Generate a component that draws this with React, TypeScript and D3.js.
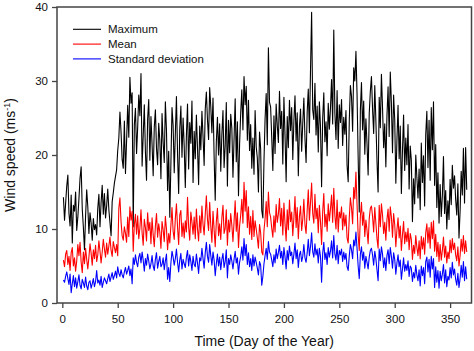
import React, { useEffect, useRef } from 'react';
import * as d3 from 'd3';

// daily wind speed values, day 1..365
const maximum = [
  14.3, 11.2, 13.5, 15.8, 17.3, 12.1, 10.4, 14.6, 8.1, 13.2,
  12.4, 15.0, 9.8, 11.6, 14.1, 16.9, 18.4, 12.7, 10.2, 7.2,
  11.8, 15.3, 13.0, 9.4, 12.2, 10.8, 8.5, 11.4, 9.9, 10.6,
  9.2, 12.8, 14.7, 10.3, 13.6, 15.9, 12.0, 14.8, 11.5, 13.1,
  15.4, 12.6, 10.9, 9.1, 13.7, 14.9, 16.2, 17.1, 18.0, 20.6,
  22.3, 25.8, 23.1, 19.4, 18.2, 24.6, 17.5, 21.9, 26.7, 22.4,
  30.5, 27.0, 28.4, 10.3, 24.1, 26.3, 20.2, 23.7, 28.1, 25.3,
  31.0, 18.5, 22.6, 26.8, 20.4, 16.6, 24.9, 27.5, 19.3, 25.2,
  21.4, 17.2, 23.8, 26.1, 20.9, 18.7, 24.3, 22.0, 16.8, 25.6,
  21.7, 19.0, 27.2, 23.3, 15.2, 20.5, 11.6, 18.9, 26.4, 24.0,
  17.6, 22.9, 27.9, 20.1, 14.8, 23.5, 26.6, 19.7, 25.0, 21.2,
  15.6, 22.7, 26.9, 18.1, 24.4, 21.6, 27.3, 16.3, 23.2, 19.5,
  25.4, 21.0, 16.0, 23.9, 20.7, 25.9, 22.5, 18.6, 26.2, 28.5,
  24.8, 22.1, 29.1, 26.5, 23.0, 27.7, 19.8, 13.9, 21.8, 25.1,
  20.0, 24.2, 17.8, 22.8, 26.0, 18.3, 21.3, 27.1, 15.8, 24.7,
  20.3, 25.5, 23.6, 17.0, 22.2, 27.6, 19.1, 24.5, 14.5, 21.5,
  25.7, 28.8, 23.4, 30.6, 26.8, 29.3, 22.0, 27.4, 20.6, 24.1,
  18.2, 22.3, 17.4, 26.0, 21.1, 19.6, 15.0, 23.1, 20.8, 12.5,
  11.5, 19.2, 24.9, 28.3, 21.4, 34.5, 27.1, 26.5, 22.4, 17.9,
  25.3, 20.2, 26.9, 24.0, 21.7, 28.6, 23.6, 25.9, 18.8, 27.8,
  22.6, 16.4, 25.2, 21.0, 27.4, 23.3, 26.4, 19.4, 24.6, 28.0,
  21.9, 25.7, 17.2, 23.8, 26.2, 20.5, 24.3, 27.7, 22.2, 19.0,
  25.8, 28.9, 23.0, 31.5, 39.3, 26.1, 24.8, 29.7, 22.7, 26.6,
  20.4, 27.2, 23.9, 15.7, 25.0, 28.4, 21.8, 24.5, 19.9, 27.0,
  23.5, 26.3, 30.2, 24.2, 36.9, 25.6, 22.1, 28.7, 20.9, 26.8,
  24.4, 27.5, 21.3, 25.1, 22.8, 26.0, 18.6, 16.4, 24.7, 29.4,
  27.9, 23.2, 31.8, 30.0, 34.0, 28.2, 19.7, 12.3, 26.1, 29.8,
  23.4, 27.3, 20.1, 24.9, 21.5, 17.3, 25.6, 28.6, 30.6, 26.2,
  22.9, 29.4, 24.6, 19.2, 15.0, 27.8, 23.7, 30.9, 26.4, 21.0,
  24.2, 18.4, 25.3, 29.2, 22.5, 31.2, 27.0, 20.3, 28.1, 24.8,
  16.2, 22.0, 26.7, 19.5, 23.9, 14.8, 20.6, 25.4, 17.9, 22.3,
  18.7, 24.1, 15.4, 21.2, 19.3, 11.0, 16.8, 13.4, 20.0, 17.0,
  14.2, 18.1, 12.6, 21.6, 16.3, 19.9, 13.1, 22.8, 25.9, 18.3,
  24.7, 16.6, 26.4, 20.7, 27.2, 15.9, 21.4, 12.9, 17.6, 10.8,
  16.0, 11.7, 14.5, 19.8, 12.1, 15.2, 10.0, 13.8, 11.3, 16.7,
  13.3, 18.6, 15.5, 17.2, 14.0, 11.9, 16.1, 8.8, 12.4, 17.8,
  14.6, 20.9, 13.5, 21.0, 15.3
];

const mean = [
  5.8, 4.9, 6.6, 7.1, 5.2, 6.3, 4.4, 6.8, 7.5, 5.0,
  6.1, 4.3, 5.7, 7.9, 6.4, 8.2, 5.5, 4.1, 6.9, 5.3,
  7.4, 5.9, 4.6, 6.2, 8.0, 6.7, 5.1, 7.2, 6.0, 7.8,
  5.6, 6.5, 8.4, 7.0, 5.4, 6.9, 8.6, 7.3, 6.2, 8.1,
  6.6, 7.7, 8.9, 7.1, 6.3, 8.3, 7.5, 6.8, 7.9, 6.4,
  12.8, 14.2, 11.0, 9.1, 8.5, 10.3, 9.4, 8.2, 11.6, 9.0,
  13.0, 11.2, 12.4, 7.0, 10.6, 12.0, 9.3, 11.8, 8.7, 10.1,
  12.6, 9.5, 7.8, 11.3, 10.2, 8.4, 12.2, 9.8, 10.9, 8.0,
  11.5, 9.2, 7.6, 10.4, 12.1, 8.9, 10.7, 9.6, 7.4, 11.0,
  9.9, 8.3, 11.7, 10.0, 7.2, 9.4, 8.1, 10.5, 12.9, 9.7,
  8.6, 11.4, 13.4, 10.2, 7.9, 11.9, 12.5, 9.0, 10.8, 8.8,
  11.1, 9.6, 14.3, 10.3, 8.5, 12.3, 10.9, 9.3, 11.6, 8.7,
  12.7, 10.0, 8.4, 11.8, 9.5, 13.1, 10.6, 9.2, 12.0, 14.5,
  11.3, 9.8, 13.6, 10.4, 8.2, 12.4, 9.9, 7.6, 11.0, 12.8,
  9.1, 10.7, 8.6, 11.5, 13.2, 9.4, 10.1, 12.6, 7.8, 11.2,
  9.6, 12.1, 10.5, 8.3, 11.0, 13.8, 9.7, 12.2, 7.5, 10.4,
  11.9, 14.0, 10.8, 16.3, 12.4, 15.2, 10.2, 13.0, 9.3, 11.7,
  8.6, 12.5, 9.0, 11.1, 10.0, 8.8, 7.4, 10.6, 9.5, 6.9,
  6.5, 9.8, 11.4, 13.7, 10.3, 15.0, 12.2, 11.6, 10.1, 8.9,
  11.8, 9.6, 13.3, 10.9, 12.0, 14.1, 10.4, 12.8, 9.2, 13.5,
  10.7, 8.4, 12.6, 9.9, 13.9, 11.0, 12.3, 9.1, 11.5, 14.4,
  10.2, 12.9, 8.7, 11.7, 13.1, 9.8, 11.3, 14.0, 10.6, 9.4,
  12.5, 15.3, 11.2, 13.6, 16.2, 12.1, 10.8, 14.7, 11.4, 12.8,
  9.5, 13.2, 11.0, 7.9, 12.4, 14.8, 10.3, 12.0, 9.7, 13.4,
  11.1, 12.7, 14.6, 10.9, 15.5, 11.8, 10.0, 13.9, 9.6, 12.3,
  11.5, 13.0, 9.9, 12.2, 10.4, 11.9, 8.8, 8.1, 11.6, 14.2,
  12.9, 10.7, 15.6, 14.1, 17.7, 13.3, 9.2, 7.1, 11.8, 13.6,
  10.5, 12.3, 9.0, 11.2, 9.8, 8.0, 11.4, 12.8, 13.1, 11.7,
  9.6, 12.9, 10.8, 8.7, 7.4, 13.2, 10.3, 13.4, 11.9, 9.4,
  10.9, 8.5, 11.3, 12.7, 9.7, 13.0, 11.6, 8.9, 12.1, 10.6,
  7.6, 9.9, 11.5, 8.8, 10.4, 7.1, 9.2, 11.0, 8.0, 9.6,
  8.3, 10.1, 7.2, 9.4, 8.6, 5.9, 7.8, 6.7, 9.1, 7.5,
  6.4, 8.4, 6.0, 9.0, 7.3, 8.8, 6.6, 9.5, 10.7, 8.1,
  10.2, 7.4, 10.9, 8.7, 11.1, 7.0, 9.3, 6.3, 8.2, 5.6,
  7.9, 5.8, 7.1, 8.9, 6.2, 7.7, 5.4, 6.9, 6.0, 8.5,
  6.8, 8.7, 7.2, 8.1, 6.5, 5.7, 7.6, 5.0, 6.4, 8.6,
  7.0, 9.1, 6.7, 8.4, 6.9
];

const stdDev = [
  3.1, 2.8, 3.6, 4.2, 3.3, 2.5, 3.9, 1.4, 2.6, 3.7,
  2.2, 3.4, 2.0, 2.9, 3.8, 2.4, 1.9, 3.2, 2.7, 2.1,
  3.5, 2.3, 1.8, 2.8, 3.0, 2.0, 2.6, 3.3, 2.2, 2.9,
  4.4, 2.7, 3.1, 2.4, 3.6, 2.1, 2.8, 3.4, 3.0, 2.6,
  3.3, 3.9, 2.9, 3.5, 4.1, 3.2, 3.7, 4.3, 3.4, 4.9,
  4.0, 3.6, 4.5, 3.8, 3.4, 4.2, 4.8, 3.9, 4.4, 5.0,
  3.7, 4.6, 2.6, 6.1, 5.2, 6.5, 5.5, 4.9, 6.2, 6.7,
  5.4, 6.9, 5.8, 4.3, 6.0, 5.1, 6.6, 5.7, 4.6, 5.3,
  6.4, 5.0, 4.4, 5.9, 6.8, 4.7, 5.6, 6.3, 4.9, 5.2,
  6.1, 4.5, 5.7, 6.6, 3.2, 4.8, 2.9, 5.4, 7.0, 6.2,
  5.1, 6.0, 7.3, 5.5, 4.2, 5.8, 6.7, 4.6, 5.9, 5.3,
  4.8, 6.2, 7.1, 5.0, 6.5, 5.6, 4.4, 6.3, 5.2, 4.9,
  6.6, 5.4, 4.0, 6.1, 5.7, 7.4, 6.0, 4.7, 6.8, 8.2,
  6.3, 5.5, 7.9, 6.4, 5.1, 6.9, 5.8, 3.7, 5.3, 6.6,
  5.0, 6.2, 4.5, 5.9, 6.7, 4.8, 5.6, 7.2, 3.4, 6.0,
  5.2, 6.5, 5.7, 4.6, 5.9, 7.0, 5.4, 6.1, 3.9, 5.5,
  6.3, 7.6, 5.8, 8.7, 6.4, 7.9, 5.2, 6.8, 4.9, 6.0,
  4.4, 6.5, 5.0, 6.2, 5.5, 4.7, 3.8, 5.6, 5.1, 2.4,
  3.6, 5.3, 6.4, 7.4, 5.9, 8.3, 6.9, 6.6, 5.8, 4.9,
  6.5, 5.4, 7.3, 6.0, 6.8, 7.8, 6.1, 7.0, 5.2, 7.5,
  6.2, 4.6, 7.1, 5.8, 7.7, 6.4, 6.9, 5.3, 6.6, 8.1,
  6.0, 7.2, 4.8, 6.5, 7.0, 5.6, 6.3, 7.9, 6.1, 5.5,
  6.8, 8.6, 6.4, 7.6, 9.5, 6.9, 6.2, 8.0, 6.5, 7.3,
  5.4, 7.4, 6.3, 2.8, 6.7, 8.2, 5.9, 6.8, 5.2, 7.5,
  6.2, 7.0, 8.4, 6.1, 9.1, 6.6, 5.8, 7.8, 5.3, 7.1,
  6.5, 7.3, 5.6, 6.9, 5.9, 6.7, 4.9, 4.4, 6.4, 7.9,
  7.2, 6.0, 8.5, 7.7, 9.6, 7.4, 5.0, 3.3, 6.6, 7.6,
  5.8, 6.9, 4.7, 6.3, 5.5, 4.6, 6.2, 7.1, 7.4, 6.5,
  5.1, 7.0, 6.0, 4.5, 3.0, 7.3, 5.7, 7.6, 6.6, 4.8,
  6.1, 4.4, 6.4, 7.2, 5.3, 7.5, 6.3, 4.7, 6.8, 5.9,
  3.9, 5.4, 6.5, 4.9, 5.8, 3.2, 4.6, 6.1, 4.3, 5.2,
  4.4, 5.7, 3.6, 5.0, 4.7, 2.9, 4.1, 3.4, 5.1, 3.8,
  3.0, 4.5, 2.3, 5.0, 3.7, 4.8, 2.6, 5.6, 6.2, 4.2,
  5.9, 3.5, 6.3, 4.6, 6.0, 2.1, 4.9, 2.8, 4.4, 2.0,
  4.3, 3.0, 3.9, 5.2, 2.7, 4.5, 2.2, 3.6, 3.1, 4.8,
  3.4, 5.5, 3.8, 4.6, 3.2, 2.4, 4.0, 2.1, 3.3, 5.1,
  3.5, 5.6, 3.0, 4.9, 3.2
];

const xTicks = [0, 50, 100, 150, 200, 250, 300, 350];
const yTicks = [0, 10, 20, 30, 40];

const seriesNames = ['Maximum', 'Mean', 'Standard deviation'];
const seriesColors = ['#000000', '#ff0000', '#0000ff'];

const W = 474, H = 351;
const FONT = '"Liberation Sans", Arial, sans-serif';

export default function App() {
  const ref = useRef<SVGSVGElement>(null);

  useEffect(() => {
    const svg = d3.select(ref.current);
    svg.selectAll('*').remove();

    const left = 57, right = 471.5, top = 7, bottom = 303;

    const x = d3.scaleLinear().domain([-4.8, 369.3]).range([left, right]);
    const y = d3.scaleLinear().domain([0, 40]).range([bottom, top]);

    const frame = '#444';

    // y axis
    const yAxis = svg.append('g')
      .attr('transform', `translate(${left},0)`)
      .call(d3.axisLeft(y).tickValues(yTicks).tickSize(5).tickPadding(4));
    yAxis.select('.domain').remove();
    yAxis.selectAll('line').attr('stroke', frame).attr('stroke-width', 1.3);
    yAxis.selectAll('text')
      .attr('font-family', FONT).attr('font-size', 11.5).attr('fill', '#111');

    // x axis
    const xAxis = svg.append('g')
      .attr('transform', `translate(0,${bottom})`)
      .call(d3.axisBottom(x).tickValues(xTicks).tickSize(5).tickPadding(7));
    xAxis.select('.domain').remove();
    xAxis.selectAll('line').attr('stroke', frame).attr('stroke-width', 1.3);
    xAxis.selectAll('text')
      .attr('font-family', FONT).attr('font-size', 11.5).attr('fill', '#111');

    // lines
    const allSeries = [maximum, mean, stdDev];
    allSeries.forEach((data, i) => {
      const line = d3.line<number>()
        .x((d, k) => x(k + 1))
        .y(d => y(d));
      svg.append('path')
        .datum(data)
        .attr('fill', 'none')
        .attr('stroke', seriesColors[i])
        .attr('stroke-width', 1.1)
        .attr('stroke-linejoin', 'round')
        .attr('d', line);
    });

    // frame box
    svg.append('rect')
      .attr('x', left).attr('y', top)
      .attr('width', right - left).attr('height', bottom - top)
      .attr('fill', 'none').attr('stroke', frame).attr('stroke-width', 1.5);

    // legend
    const lg = svg.append('g');
    seriesNames.forEach((name, i) => {
      const ly = 29.3 + i * 14.8;
      lg.append('line')
        .attr('x1', 73).attr('x2', 101).attr('y1', ly).attr('y2', ly)
        .attr('stroke', seriesColors[i]).attr('stroke-width', 1.1);
      lg.append('text')
        .attr('x', 108).attr('y', ly + 4)
        .attr('font-family', FONT).attr('font-size', 11.5).attr('fill', '#111')
        .text(name);
    });

    // axis titles
    svg.append('text')
      .attr('x', (left + right) / 2).attr('y', 346)
      .attr('text-anchor', 'middle')
      .attr('font-family', FONT).attr('font-size', 14).attr('fill', '#111')
      .text('Time (Day of the Year)');

    const yt = svg.append('text')
      .attr('transform', `translate(15,${(top + bottom) / 2}) rotate(-90)`)
      .attr('text-anchor', 'middle')
      .attr('font-family', FONT).attr('font-size', 14).attr('fill', '#111');
    yt.append('tspan').text('Wind speed (ms');
    yt.append('tspan').attr('font-size', 9).attr('dy', -5).text('-1');
    yt.append('tspan').attr('dy', 5).text(')');
  }, []);

  return (
    <svg ref={ref} width={W} height={H}
      style={{ position: 'absolute', left: 0, top: 0, background: '#fff' }} />
  );
}
